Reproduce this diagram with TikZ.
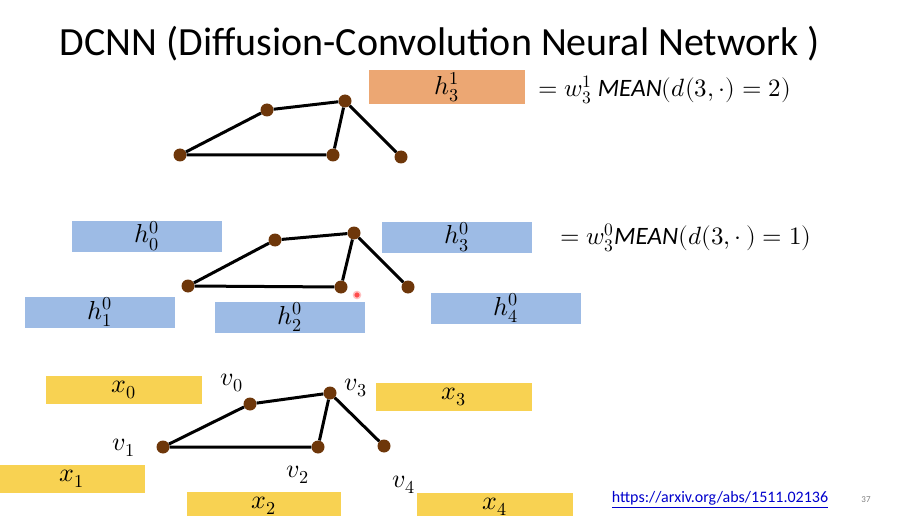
\documentclass[tikz,border=0pt]{standalone}
\usepackage{fontspec}
\usepackage{unicode-math}
\setmainfont{Carlito}
\setmathfont{Latin Modern Math}
\begin{document}
\begin{tikzpicture}[x=1pt,y=-1pt,
 v/.style={circle,inner sep=0pt,minimum size=13pt},
 e/.style={line width=3pt},
 box/.style={minimum width=150pt,minimum height=31pt,inner sep=0pt,font=\fontsize{26}{28}\selectfont},
 org/.style={box},
 blu/.style={box},
 yel/.style={box,minimum height=28pt},
 lab/.style={font=\fontsize{26}{28}\selectfont},
 eq/.style={font=\fontsize{25}{28}\selectfont,anchor=west}]
\useasboundingbox (0,0) rectangle (900,516);
\clip (0,0) rectangle (900,516);
\definecolor{bl}{RGB}{157,187,229}
\definecolor{yl}{RGB}{248,210,82}
\definecolor{og}{RGB}{236,167,115}
\definecolor{nd}{RGB}{110,55,10}
\tikzset{v/.append style={fill=nd},blu/.append style={fill=bl},yel/.append style={fill=yl},org/.append style={fill=og}}
\node[font=\fontsize{40}{44}\selectfont] (title) at (440,44) {DCNN (Diffusion-Convolution Neural Network )};
% top
\node[v] (a1) at (180,155) {}; \node[v] (a0) at (267,110) {}; \node[v] (a3) at (345,101) {};
\node[v] (a2) at (333,155) {}; \node[v] (a4) at (401,157) {};
\draw[e] (a1)--(a0)--(a3)--(a2)--(a1) (a3)--(a4);
\node[org,minimum width=156pt,minimum height=34pt] (h31) at (447,87) {$h_3^1$};
\node[eq] (eq1) at (535,90) {$=w_3^1\ \mathit{MEAN}(d(3,\cdot)=2)$};
% middle
\node[v] (b1) at (188,286) {}; \node[v] (b0) at (275,240) {}; \node[v] (b3) at (354,233) {};
\node[v] (b2) at (341,287) {}; \node[v] (b4) at (408,287) {};
\draw[e] (b1)--(b0)--(b3)--(b2)--(b1) (b3)--(b4);
\node[blu] (h0) at (147,236) {$h_0^0$};
\node[blu] (h3) at (457,237) {$h_3^0$};
\node[blu] (h1) at (100,312) {$h_1^0$};
\node[blu] (h2) at (290,317) {$h_2^0$};
\node[blu] (h4) at (506,308) {$h_4^0$};
\node[eq] (eq0) at (557,238) {$=w_3^0\mathit{MEAN}(d(3,\cdot\,)=1)$};
\node[circle,fill=red!70,draw=pink,line width=1.5pt,inner sep=0pt,minimum size=7pt] (ptr) at (357,295) {};
% bottom
\node[v] (c1) at (163,447) {}; \node[v] (c0) at (250,404) {}; \node[v] (c3) at (330,393) {};
\node[v] (c2) at (318,447) {}; \node[v] (c4) at (384,446) {};
\draw[e] (c1)--(c0)--(c3)--(c2)--(c1) (c3)--(c4);
\node[lab] (l0) at (232,383) {$v_0$};
\node[lab] (l1) at (124,448) {$v_1$};
\node[lab] (l2) at (298,475) {$v_2$};
\node[lab] (l3) at (356,388) {$v_3$};
\node[lab] (l4) at (404,485) {$v_4$};
\node[yel,minimum width=156pt] (x0) at (124,390) {$x_0$};
\node[yel,minimum width=156pt] (x3) at (454,397) {$x_3$};
\node[yel,minimum width=146pt] (x1) at (72,479) {$x_1$};
\node[yel,minimum width=154pt] (x2) at (264,506) {$x_2$};
\node[yel,minimum width=156pt] (x4) at (495,507) {$x_4$};
\node[font=\fontsize{16}{18}\selectfont,text=blue!80!black] (url) at (720,500) {\underline{https://arxiv.org/abs/1511.02136}};
\node[font=\fontsize{9}{10}\selectfont,text=gray] (pg) at (866,500) {37};
\end{tikzpicture}
\end{document}
